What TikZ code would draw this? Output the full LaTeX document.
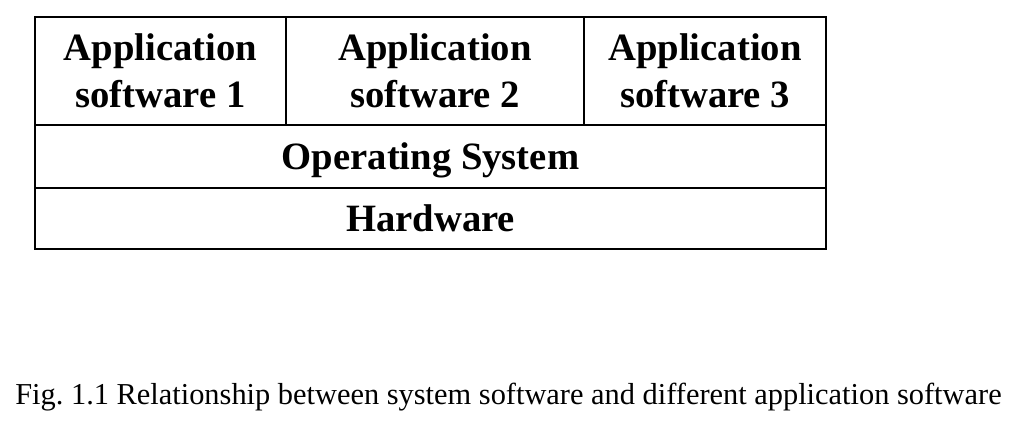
\documentclass[tikz,border=0pt]{standalone}
\usepackage{fontspec}
\setmainfont{Liberation Serif}
\usepackage{tikz}
\usetikzlibrary{positioning}
\frenchspacing

\begin{document}
\begin{tikzpicture}[
  appnode/.style={rectangle, draw=black, line width=1.1pt, outer sep=0pt, inner sep=0pt, minimum height=2.16cm, align=center, font=\fontsize{22}{27}\selectfont\bfseries},
  layernode/.style={rectangle, draw=black, line width=1.1pt, outer sep=0pt, inner sep=0pt, minimum width=15.82cm, text height=0.54cm, text depth=0pt, align=center, font=\fontsize{22}{27}\selectfont\bfseries},
  captionnode/.style={rectangle, inner sep=0pt, outer sep=0pt, font=\fontsize{17.3}{20}\selectfont}
  ]
  \useasboundingbox (0,0) rectangle (20.48,-8.72);
  
  % Application layer
  \node[appnode, minimum width=5.02cm, anchor=north west]  (app1)   at (0.70,-0.34)          {Application\\software 1};
  \node[appnode, minimum width=5.96cm]                     (app2)   [right=0pt of app1]      {Application\\software 2};
  \node[appnode, minimum width=4.84cm]                     (app3)   [right=0pt of app2]      {Application\\software 3};
  
  % System layers
  \node[layernode, minimum height=1.26cm, anchor=north west] (os)   at (app1.south west)     {Operating System};
  \node[layernode, minimum height=1.22cm]                    (hw)   [below=0pt of os]        {Hardware};
  
  % Caption
  \node[captionnode]  (caption)   at (10.17,-7.94)   {Fig. 1.1 Relationship between system software and different application software};
  
\end{tikzpicture}
\end{document}
